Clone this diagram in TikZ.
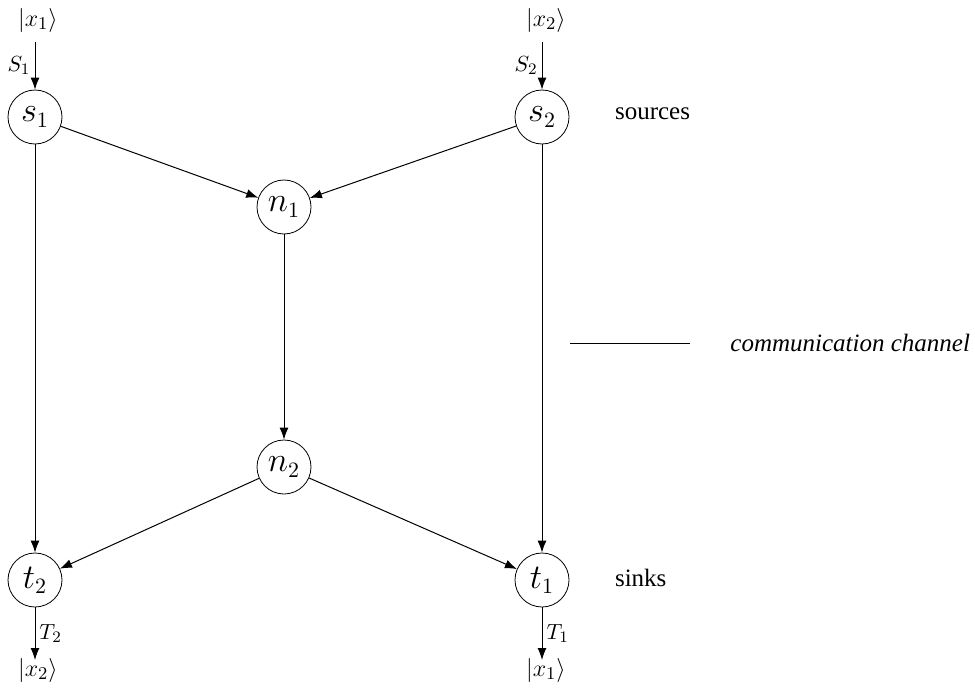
\documentclass[tikz,border=0pt]{standalone}
\usepackage{fontspec}
\setmainfont{Liberation Serif}
\usetikzlibrary{arrows.meta}
\begin{document}
\begin{tikzpicture}[x=0.5pt,y=-0.5pt,
  vtx/.style={circle,draw,minimum size=27pt,inner sep=0pt,font=\fontsize{16}{16}\selectfont},
  arr/.style={-{Latex[length=6pt,width=4.5pt]},line width=0.5pt},
  lab/.style={font=\fontsize{11}{11}\selectfont},
  ket/.style={font=\fontsize{13}{13}\selectfont},
  txt/.style={font=\fontsize{12.5}{12.5}\selectfont}]
\useasboundingbox (0,0) rectangle (975,696);
\node[vtx] (s1) at (35,117) {$s_1$};
\node[vtx] (s2) at (542,117) {$s_2$};
\node[vtx] (n1) at (284,207) {$n_1$};
\node[vtx] (n2) at (284,467) {$n_2$};
\node[vtx] (t2) at (35,580) {$t_2$};
\node[vtx] (t1) at (542,580) {$t_1$};
\node[ket] (k1) at (38,20) {$\left|x_1\right\rangle$};
\node[ket] (k2) at (546,20) {$\left|x_2\right\rangle$};
\node[ket] (k3) at (38,670) {$\left|x_2\right\rangle$};
\node[ket] (k4) at (546,670) {$\left|x_1\right\rangle$};
\coordinate (a1) at (35,42); \coordinate (a2) at (542,42);
\coordinate (b1) at (35,660); \coordinate (b2) at (542,660);
\draw[arr] (a1) -- node[left,lab,inner sep=2pt]{$S_1$} (s1);
\draw[arr] (a2) -- node[left,lab,inner sep=2pt]{$S_2$} (s2);
\draw[arr] (t2) -- node[right,lab,inner sep=2pt]{$T_2$} (b1);
\draw[arr] (t1) -- node[right,lab,inner sep=2pt]{$T_1$} (b2);
\draw[arr] (s1) -- (n1);
\draw[arr] (s2) -- (n1);
\draw[arr] (n1) -- (n2);
\draw[arr] (n2) -- (t2);
\draw[arr] (n2) -- (t1);
\draw[arr] (s1) -- (t2);
\draw[arr] (s2) -- (t1);
\node[txt,anchor=west] (src) at (608,114) {sources};
\node[txt,anchor=west] (snk) at (608,578) {sinks};
\coordinate (c1) at (570,343); \coordinate (c2) at (690,343);
\draw[line width=0.5pt] (c1) -- (c2);
\node[txt,anchor=east] (cc) at (977,343) {\textit{communication channel}};
\end{tikzpicture}
\end{document}
